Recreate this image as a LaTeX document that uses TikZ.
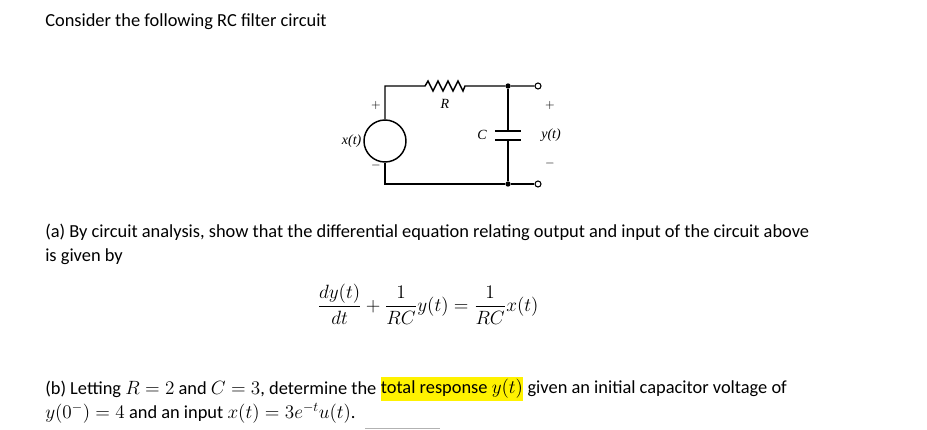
\documentclass[tikz,border=0pt]{standalone}
\usepackage{amsmath}
\usepackage{fontspec}
\setmainfont{Carlito}
\newfontfamily\lblfont{Liberation Serif}
\usetikzlibrary{positioning,calc}
\tikzset{wire/.style={line width=1.1pt},
  txt/.style={anchor=west,inner sep=0pt,font=\fontsize{13.8}{16}\selectfont},
  lbl/.style={inner sep=1pt,font=\fontsize{10.5}{12}\lblfont\itshape},
  dot/.style={circle,fill,inner sep=0pt,minimum size=4pt},
  term/.style={circle,draw,fill=white,line width=0.8pt,inner sep=0pt,minimum size=4.5pt}}
\begin{document}
\begin{tikzpicture}[x=0.75pt,y=-0.75pt]
\useasboundingbox (0,0) rectangle (927,429);
% text
\node[txt] (q) at (45,22) {Consider the following RC filter circuit};
\node[txt] (a1) at (45,232) {(a) By circuit analysis, show that the differential equation relating output and input of the circuit above};
\node[txt] (a2) at (45,257) {is given by};
\node[font=\fontsize{13.8}{16}\selectfont] (eq) at (428,304) {$\dfrac{dy(t)}{dt}+\dfrac{1}{RC}y(t)=\dfrac{1}{RC}x(t)$};
\node[txt] (b1) at (45,389) {(b) Letting $R=2$ and $C=3$, determine the};
\node[txt,right=3pt of b1.east,fill=yellow,inner ysep=2pt] (hl) {total response $y(t)$};
\node[txt,right=3pt of hl.east] (b1c) {given an initial capacitor voltage of};
\node[txt] (b2) at (45,413) {$y(0^-)=4$ and an input $x(t)=3e^{-t}u(t)$.};
\draw[gray!60] (365,428) -- (440,428);
% circuit
\node[circle,draw,line width=1.1pt,minimum size=42pt*0.75,inner sep=0pt] (src) at (385,141) {};
\coordinate (tl) at (385,86);
\coordinate (bl) at (385,184);
\coordinate (r1) at (425,86);
\coordinate (r2) at (465,86);
\node[dot] (nt) at (508,86) {};
\node[dot] (nb) at (508,184) {};
\node[term] (ot) at (538,86) {};
\node[term] (ob) at (538,184) {};
\coordinate (c1) at (508,131);
\coordinate (c2) at (508,140);
\draw[wire] (src.north) -- (tl) -- (r1)
  -- ++(3,-5) -- ++(5,10) -- ++(5,-10) -- ++(5,10) -- ++(5,-10) -- ++(5,10) -- ++(5,-10) -- ++(5,10) -- ++(2,-5)
  -- (r2) -- (nt) -- (ot);
\draw[wire] (src.south) -- (bl) -- (nb) -- (ob);
\draw[wire] (nt) -- (c1) (c2) -- (nb);
\draw[wire] ($(c1)+(-13,0)$) -- ($(c1)+(13,0)$);
\draw[wire] ($(c2)+(-13,0)$) -- ($(c2)+(13,0)$);
\node[lbl] (rl) at (445,104) {R};
\node[lbl] (cl) at (482,135) {C};
\node[lbl,anchor=east] (xl) at (363,141) {x(t)};
\node[lbl] (yl) at (551,135) {y(t)};
\node[font=\small] (sp) at (376,105) {$+$};
\node[font=\small] (sm) at (376,165) {$-$};
\node[font=\small] (op) at (550,105) {$+$};
\node[font=\small] (om) at (550,163) {$-$};
\end{tikzpicture}
\end{document}
